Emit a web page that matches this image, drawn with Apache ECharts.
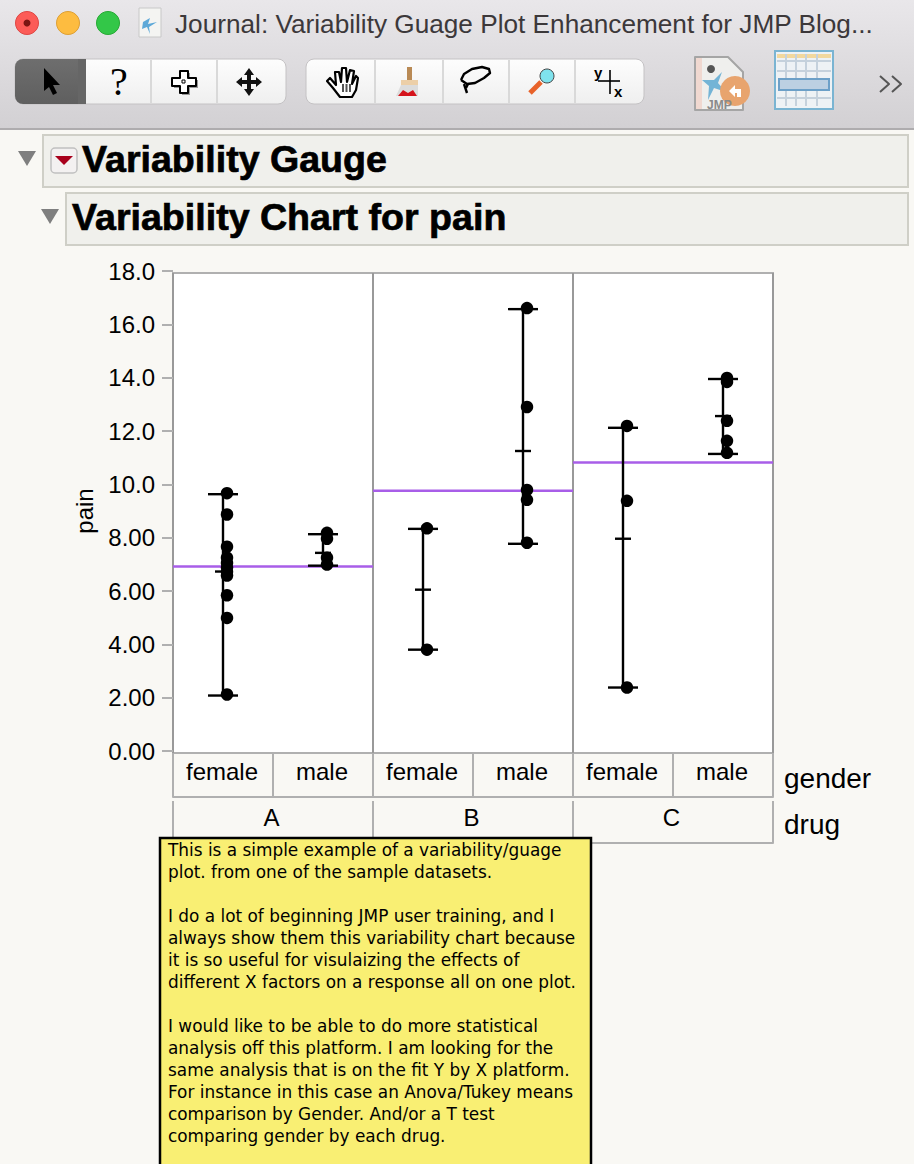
<!DOCTYPE html>
<html>
<head>
<meta charset="utf-8">
<title>Variability Chart for pain</title>
<script src="https://cdn.jsdelivr.net/npm/echarts@6/dist/echarts.min.js"></script>
<style>
html, body { margin: 0; padding: 0; background: #f9f8f4; }
#chart { width: 914px; height: 1164px; }
</style>
</head>
<body>
<div id="chart"></div>
<script>
var genders = ['female', 'male', 'female', 'male', 'female', 'male'];
var drugs = ['A', 'B', 'C'];
var yTickLabels = ['0.00', '2.00', '4.00', '6.00', '8.00', '10.0', '12.0', '14.0', '16.0', '18.0'];

// points per cell
var painAFemale = [9.67, 8.87, 7.66, 7.25, 7.05, 6.88, 6.72, 6.58, 5.84, 4.99, 2.12];
var painAMale = [8.18, 7.96, 7.25, 6.99];
var painBFemale = [8.35, 3.80];
var painBMale = [16.61, 12.90, 9.79, 9.42, 7.81];
var painCFemale = [12.19, 9.38, 2.38];
var painCMale = [13.99, 13.84, 12.38, 11.63, 11.18];
var cellPoints = [painAFemale, painAMale, painBFemale, painBMale, painCFemale, painCMale];

var cellMin = [2.08, 6.95, 3.80, 7.77, 2.38, 11.14];
var cellMax = [9.63, 8.13, 8.33, 16.57, 12.12, 13.95];
var cellMean = [6.73, 7.43, 6.05, 11.25, 7.96, 12.56];
var groupMean = [6.92, 9.76, 10.82];

var noteLines = [
    'This is a simple example of a variability/guage',
    'plot. from one of the sample datasets.',
    '',
    'I do a lot of beginning JMP user training, and I',
    'always show them this variability chart because',
    'it is so useful for visulaizing the effects of',
    'different X factors on a response all on one plot.',
    '',
    'I would like to be able to do more statistical',
    'analysis off this platform. I am looking for the',
    'same analysis that is on the fit Y by X platform.',
    'For instance in this case an Anova/Tukey means',
    'comparison by Gender. And/or a T test',
    'comparing gender by each drug.'
];

var font = '"Liberation Sans", Arial, sans-serif';
var frameGray = '#b0b0b0';
var dotOffset = 0.04;

var chart = echarts.init(document.getElementById('chart'), null, {renderer: 'svg'});

/* helpers for the window chrome */
var chrome = [];
function box(x, y, w, h, fill, stroke, r, lw, z) {
    chrome.push({
        type: 'rect', z: z || 1, silent: true,
        shape: {x: x, y: y, width: w, height: h, r: r || 0},
        style: {fill: fill, stroke: stroke || null, lineWidth: lw || 0}
    });
}
function dot(cx, cy, r, fill, stroke) {
    chrome.push({
        type: 'circle', z: 3, silent: true,
        shape: {cx: cx, cy: cy, r: r},
        style: {fill: fill, stroke: stroke || null, lineWidth: stroke ? 1 : 0}
    });
}
function line(x1, y1, x2, y2, color, lw, z) {
    chrome.push({
        type: 'line', z: z || 3, silent: true,
        shape: {x1: x1, y1: y1, x2: x2, y2: y2},
        style: {stroke: color, lineWidth: lw}
    });
}
function label(x, y, str, size, color, weight, family, z) {
    chrome.push({
        type: 'text', z: z || 4, silent: true, x: x, y: y,
        style: {
            text: str, fill: color || '#000', fontSize: size, fontWeight: weight || 'normal',
            fontFamily: family || font, textAlign: 'left', textVerticalAlign: 'middle'
        }
    });
}
// flat list of x,y -> closed polygon
function poly(n, fill, stroke, lw, z) {
    var pts = [];
    for (var i = 0; i < n.length; i += 2) pts.push([n[i], n[i + 1]]);
    chrome.push({
        type: 'polygon', z: z || 3, silent: true,
        shape: {points: pts},
        style: {fill: fill, stroke: stroke || null, lineWidth: lw || 0, lineJoin: 'round'}
    });
}
function stroke(n, color, lw, z) {
    var pts = [];
    for (var i = 0; i < n.length; i += 2) pts.push([n[i], n[i + 1]]);
    chrome.push({
        type: 'polyline', z: z || 3, silent: true,
        shape: {points: pts},
        style: {fill: null, stroke: color, lineWidth: lw, lineJoin: 'round'}
    });
}
var buttonFill = {type: 'linear', x: 0, y: 0, x2: 0, y2: 1, colorStops: [
    {offset: 0, color: '#fdfdfd'}, {offset: 1, color: '#efefef'}
]};

// title bar
box(0, 0, 914, 129, {type: 'linear', x: 0, y: 0, x2: 0, y2: 1, colorStops: [
    {offset: 0, color: '#e9e7ea'}, {offset: 1, color: '#d2d0d3'}
]});
line(0, 129, 914, 129, '#aeacae', 2);
dot(27, 23, 11.5, '#fc5b57', '#df4744');
dot(27, 23, 3.5, '#7a1512');
dot(68, 23, 11.5, '#fdbc40', '#dea034');
dot(108, 23, 11.5, '#33c748', '#27aa35');
box(139, 8, 22, 29, '#f4f4f2', '#c8c8c8', 0, 1, 2);
poly([143, 22, 150, 18, 148, 24, 157, 22, 149, 27, 150, 34, 147, 27, 142, 29], '#5da8d8');
label(175, 24, 'Journal: Variability Guage Plot Enhancement for JMP Blog...', 26.2, '#3c383a');

// left tool group
box(15, 59, 271, 45, buttonFill, '#c4c2c4', 8, 1, 2);
box(15, 59, 71, 45, {type: 'linear', x: 0, y: 0, x2: 0, y2: 1, colorStops: [
    {offset: 0, color: '#6e6e6e'}, {offset: 1, color: '#5f5f5f'}
]}, null, 8, 0, 2);
box(78, 59, 8, 45, '#666666', null, 0, 0, 2);
line(151, 60, 151, 103, '#d9d9d9', 2);
line(217, 60, 217, 103, '#d9d9d9', 2);
poly([44, 68, 44, 91, 49, 87, 53, 95, 57, 93, 53, 85, 60, 85], '#000');
label(110, 81, '?', 40, '#000', 'normal', '"Liberation Serif", serif');
poly([182, 73, 190, 73, 190, 80, 198, 80, 198, 88, 190, 88, 190, 95, 182, 95, 182, 88, 174, 88, 174, 80, 182, 80], '#999');
poly([180, 71, 188, 71, 188, 78, 196, 78, 196, 86, 188, 86, 188, 93, 180, 93, 180, 86, 172, 86, 172, 78, 180, 78], '#fff', '#000', 2);
box(182, 80, 3, 3, '#fff', '#000', 0, 1, 4);
poly([249, 68, 254, 75, 251, 75, 251, 80, 256, 80, 256, 77, 262, 82, 256, 87, 256, 84, 251, 84, 251, 89, 254, 89, 249, 96, 244, 89, 247, 89, 247, 84, 242, 84, 242, 87, 236, 82, 242, 77, 242, 80, 247, 80, 247, 75, 244, 75], '#111');

// right tool group
box(306, 59, 338, 45, buttonFill, '#c4c2c4', 8, 1, 2);
line(375, 60, 375, 103, '#d9d9d9', 2);
line(443, 60, 443, 103, '#d9d9d9', 2);
line(509, 60, 509, 103, '#d9d9d9', 2);
line(575, 60, 575, 103, '#d9d9d9', 2);
// hand
poly([330, 78, 336, 85, 335, 72, 339, 72, 341, 82, 342, 68, 346, 68, 347, 82, 350, 70, 354, 71, 352, 84, 356, 76, 358, 78, 356, 90, 352, 97, 340, 97, 333, 88, 327, 81], '#fff', '#000', 2.2);
box(342, 84, 2, 8, '#555', null, 0, 0, 4);
box(345.5, 84, 2, 8, '#555', null, 0, 0, 4);
box(349, 84, 2, 8, '#555', null, 0, 0, 4);
// brush
box(407, 67, 5, 14, '#b98a55', null, 0, 0, 3);
box(401, 80, 17, 5, '#eccfa8', null, 0, 0, 3);
poly([401, 85, 418, 85, 418, 96, 396, 96], '#dcdcdc');
poly([398, 96, 403, 90, 408, 93, 413, 90, 417, 96], '#d5131c');
// lasso
stroke([461, 80, 464, 74, 472, 69, 482, 67, 489, 69, 490, 73, 484, 78, 475, 83, 467, 84, 461, 80], '#000', 2.4);
stroke([464, 84, 467, 93], '#000', 2.4);
stroke([468, 84, 466, 88], '#000', 2.4);
// magnifier
line(530, 93, 541, 82, '#e8622a', 5);
dot(547, 76, 7, '#7fe3ee', '#444');
// crosshair
line(610, 70, 610, 94, '#000', 1.6);
line(598, 81, 620, 81, '#000', 1.6);
label(594, 72, 'y', 15, '#000', 'bold');
label(614, 91, 'x', 15, '#000', 'bold');

// journal + table buttons
poly([695, 57, 728, 57, 743, 72, 743, 110, 695, 110], '#efefed', '#a5a5a5', 2);
box(696, 58, 6, 51, '#f0d8d0', null, 0, 0, 3);
dot(711, 69, 4, '#555');
poly([702, 80, 714, 80, 722, 72, 718, 83, 726, 92, 714, 88, 708, 100, 709, 86], '#74b4d6');
dot(735, 91, 15, '#e8a46e');
label(707, 105, 'JMP', 12, '#8a8a8a', 'bold');
poly([729, 91, 735, 85, 735, 89, 741, 89, 741, 97, 737, 97, 737, 93, 735, 93, 735, 97], '#fff', null, 0, 4);
box(775, 51, 58, 58, '#eef2f5', '#7ab4d2', 0, 2, 2);
box(777, 54, 54, 4, '#f2d89e', null, 0, 0, 3);
[786, 796, 806, 817].forEach(function (x) { line(x, 54, x, 106, '#c5d1dc', 2, 3); });
[61, 71, 98].forEach(function (y) { line(777, y, 831, y, '#c5d1dc', 2, 3); });
box(779, 79, 50, 11, '#bcd0e2', '#6ca0c8', 0, 2, 4);
stroke([880, 76, 889, 84, 880, 92], '#555', 2);
stroke([892, 76, 901, 84, 892, 92], '#555', 2);

// outline headers
box(43, 135, 865, 52, '#f0f0ec', '#cfcfc7', 0, 2, 1);
box(66, 193, 842, 52, '#f0f0ec', '#cfcfc7', 0, 2, 1);
poly([18, 151, 36, 151, 27, 166], '#7f7f7f');
poly([41, 209, 59, 209, 50, 224], '#7f7f7f');
box(51, 148, 26, 25, '#f3f1f1', '#c0c0c0', 4, 1.5, 2);
poly([55, 156, 73, 156, 64, 165], '#a8001c');
label(82, 158.5, 'Variability Gauge', 37.6, '#000', 'bold');
chrome[chrome.length - 1].style.stroke = '#000';
chrome[chrome.length - 1].style.lineWidth = 0.7;
label(72, 216.5, 'Variability Chart for pain', 37.6, '#000', 'bold');
chrome[chrome.length - 1].style.stroke = '#000';
chrome[chrome.length - 1].style.lineWidth = 0.7;

// side labels
label(784, 778, 'gender', 28, '#000');
label(784, 824, 'drug', 28, '#000');

// note
box(160, 838, 431, 340, '#f9ef73', '#000', 0, 2.5, 20);
noteLines.forEach(function (txt, i) {
    if (txt) label(168, 850 + i * 22, txt, 16.9, '#000', 'normal', '"DejaVu Sans", sans-serif', 21);
});

/* marks */
var pointData = [];
cellPoints.forEach(function (vals, col) {
    vals.forEach(function (v) {
        pointData.push([col + 0.5 + dotOffset, v]);
    });
});
var rangeData = cellMin.map(function (lo, col) {
    return [col, lo, cellMax[col], cellMean[col]];
});
var meanData = groupMean.map(function (m, g) {
    return [g, m];
});

function renderRange(params, api) {
    var col = api.value(0);
    var xPos = col + 0.5;
    var lo = api.coord([xPos, api.value(1)]);
    var hi = api.coord([xPos, api.value(2)]);
    var mean = api.coord([xPos, api.value(3)]);
    var st = {stroke: '#000', lineWidth: 2.4};
    function seg(x1, y1, x2, y2) {
        return {type: 'line', shape: {x1: x1, y1: y1, x2: x2, y2: y2}, style: st};
    }
    return {
        type: 'group',
        children: [
            seg(hi[0], hi[1], lo[0], lo[1]),
            seg(hi[0] - 15, hi[1], hi[0] + 15, hi[1]),
            seg(lo[0] - 15, lo[1], lo[0] + 15, lo[1]),
            seg(mean[0] - 8, mean[1], mean[0] + 8, mean[1])
        ]
    };
}

function renderMean(params, api) {
    var g = api.value(0);
    var a = api.coord([g * 2, api.value(1)]);
    var b = api.coord([g * 2 + 2, api.value(1)]);
    return {
        type: 'line',
        shape: {x1: a[0], y1: a[1], x2: b[0], y2: b[1]},
        style: {stroke: '#a85ee8', lineWidth: 2.5}
    };
}

var option = {
    backgroundColor: '#f9f8f4',
    animation: false,
    textStyle: {fontFamily: font},
    grid: [
        // scale grid, the y ticks sit 2px above the drawn frame
        {left: 173, top: 271, width: 600, height: 480, show: false},
        {left: 173, top: 273, width: 600, height: 480, show: true, backgroundColor: '#fff', borderColor: frameGray, borderWidth: 2}
    ],
    xAxis: [
        {gridIndex: 0, type: 'value', min: 0, max: 6, show: false},
        {
            gridIndex: 1, type: 'category', data: genders, position: 'bottom', offset: 44,
            axisLine: {show: true, onZero: false, lineStyle: {color: frameGray, width: 2}},
            axisTick: {show: true, inside: true, length: 44, interval: 0, lineStyle: {color: frameGray, width: 2}},
            axisLabel: {inside: true, margin: 14, padding: [0, 2, 0, 0], color: '#000', fontSize: 24, fontFamily: font, interval: 0},
            splitLine: {show: false}
        },
        {
            gridIndex: 1, type: 'category', data: drugs, position: 'bottom', offset: 90,
            axisLine: {show: true, onZero: false, lineStyle: {color: frameGray, width: 2}},
            axisTick: {show: true, inside: true, length: 42, interval: 0, lineStyle: {color: frameGray, width: 2}},
            axisLabel: {inside: true, margin: 14, padding: [0, 3, 0, 0], color: '#000', fontSize: 24, fontFamily: font, interval: 0},
            splitLine: {show: true, interval: 0, lineStyle: {color: '#999999', width: 2}}
        }
    ],
    yAxis: [
        {
            gridIndex: 0, type: 'value', min: 0, max: 18, interval: 2, offset: 3,
            name: 'pain', nameLocation: 'middle', nameGap: 74,
            nameTextStyle: {color: '#000', fontSize: 24, fontFamily: font},
            axisLine: {show: false},
            axisTick: {show: true, length: 11, lineStyle: {color: frameGray, width: 2}},
            axisLabel: {
                margin: 15, color: '#000', fontSize: 24, fontFamily: font,
                formatter: function (v) { return yTickLabels[v / 2]; }
            },
            splitLine: {show: false}
        },
        {gridIndex: 1, type: 'value', min: 0, max: 18, show: false, splitLine: {show: false}}
    ],
    graphic: {elements: chrome},
    series: [
        {
            name: 'Group mean', type: 'custom', xAxisIndex: 0, yAxisIndex: 0, z: 3,
            renderItem: renderMean, data: meanData, encode: {x: 0, y: 1}, silent: true
        },
        {
            name: 'Range', type: 'custom', xAxisIndex: 0, yAxisIndex: 0, z: 4,
            renderItem: renderRange, data: rangeData, encode: {y: [1, 2]}, silent: true
        },
        {
            name: 'pain', type: 'scatter', xAxisIndex: 0, yAxisIndex: 0, z: 5,
            symbolSize: 12.5, itemStyle: {color: '#000', opacity: 1}, data: pointData, silent: true
        }
    ]
};

chart.setOption(option);
</script>
</body>
</html>
